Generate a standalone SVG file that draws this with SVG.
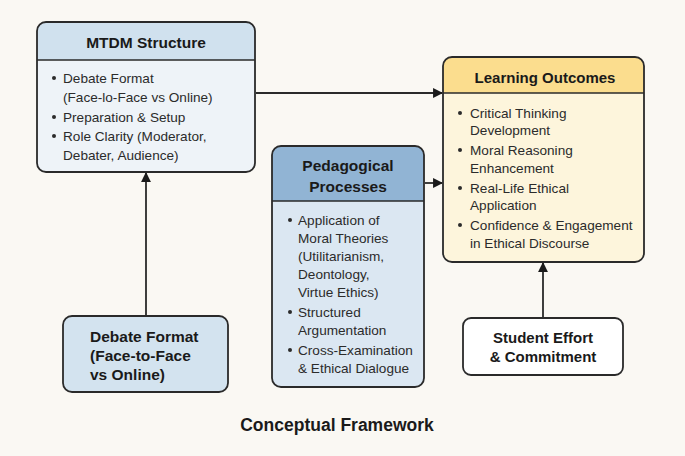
<svg xmlns="http://www.w3.org/2000/svg" width="685" height="456" viewBox="0 0 685 456">
<style>
.box{stroke:#2a2a2a;stroke-width:1.8}
.div{stroke:#2a2a2a;stroke-width:1.5}
.t{font-family:"Liberation Sans",Arial,sans-serif;font-size:13.6px;fill:#2b2b2b}
.h{font-family:"Liberation Sans",Arial,sans-serif;font-size:15px;font-weight:bold;fill:#1a1a1a}
.c{text-anchor:middle}
.dot{fill:#2b2b2b}
.con{stroke:#2a2a2a;stroke-width:1.8;fill:none}
</style>
<defs>
<marker id="arr" viewBox="0 0 10 10" refX="9" refY="5" markerWidth="5.5" markerHeight="5.5" orient="auto" markerUnits="strokeWidth">
<path d="M0,0 L10,5 L0,10 z" fill="#1a1a1a"/>
</marker>
<clipPath id="c1"><rect x="37" y="22" width="218" height="150" rx="9"/></clipPath>
<clipPath id="c2"><rect x="272" y="146" width="152" height="241" rx="9"/></clipPath>
<clipPath id="c3"><rect x="443" y="57" width="201" height="205" rx="9"/></clipPath>
</defs>
<rect width="685" height="456" fill="#faf8f3"/>

<g id="connectors">
<line class="con" x1="256" y1="93" x2="442" y2="93" marker-end="url(#arr)"/>
<line class="con" x1="425" y1="183" x2="442" y2="183" marker-end="url(#arr)"/>
<line class="con" x1="146" y1="316" x2="146" y2="173" marker-end="url(#arr)"/>
<line class="con" x1="543" y1="318" x2="543" y2="263" marker-end="url(#arr)"/>
</g>

<g id="mtdm">
<g clip-path="url(#c1)">
<rect x="37" y="22" width="218" height="150" fill="#eef3f8"/>
<rect x="37" y="22" width="218" height="38" fill="#d0e1ee"/>
</g>
<line class="div" x1="37" y1="60" x2="255" y2="60"/>
<rect class="box" x="37" y="22" width="218" height="150" rx="9" fill="none"/>
<text class="h c" x="146" y="48" style="font-size:15.5px">MTDM Structure</text>
<circle class="dot" cx="54" cy="78" r="2"/>
<circle class="dot" cx="54" cy="117" r="2"/>
<circle class="dot" cx="54" cy="136" r="2"/>
<text class="t" x="63" y="83">Debate Format</text>
<text class="t" x="63" y="102">(Face-lo-Face vs Online)</text>
<text class="t" x="63" y="122">Preparation &amp; Setup</text>
<text class="t" x="63" y="141">Role Clarity (Moderator,</text>
<text class="t" x="63" y="160">Debater, Audience)</text>
</g>

<g id="pedagogical">
<g clip-path="url(#c2)">
<rect x="272" y="146" width="152" height="241" fill="#dbe7f2"/>
<rect x="272" y="146" width="152" height="55" fill="#91b4d4"/>
</g>
<line class="div" x1="272" y1="201" x2="424" y2="201"/>
<rect class="box" x="272" y="146" width="152" height="241" rx="9" fill="none"/>
<text class="h c" x="348" y="171" style="font-size:15.5px">Pedagogical</text>
<text class="h c" x="348" y="192" style="font-size:15.5px">Processes</text>
<circle class="dot" cx="290" cy="220" r="2"/>
<circle class="dot" cx="290" cy="312" r="2"/>
<circle class="dot" cx="290" cy="350" r="2"/>
<text class="t" x="298" y="225">Application of</text>
<text class="t" x="298" y="243">Moral Theories</text>
<text class="t" x="298" y="261">(Utilitarianism,</text>
<text class="t" x="298" y="279">Deontology,</text>
<text class="t" x="298" y="297">Virtue Ethics)</text>
<text class="t" x="298" y="317">Structured</text>
<text class="t" x="298" y="335">Argumentation</text>
<text class="t" x="298" y="355">Cross-Examination</text>
<text class="t" x="298" y="373">&amp; Ethical Dialogue</text>
</g>

<g id="outcomes">
<g clip-path="url(#c3)">
<rect x="443" y="57" width="201" height="205" fill="#fdf5dc"/>
<rect x="443" y="57" width="201" height="36" fill="#fbdd8e"/>
</g>
<line class="div" x1="443" y1="93" x2="644" y2="93"/>
<rect class="box" x="443" y="57" width="201" height="205" rx="9" fill="none"/>
<text class="h c" x="545" y="83">Learning Outcomes</text>
<circle class="dot" cx="460" cy="113" r="2"/>
<circle class="dot" cx="460" cy="150" r="2"/>
<circle class="dot" cx="460" cy="188" r="2"/>
<circle class="dot" cx="460" cy="225" r="2"/>
<text class="t" x="470" y="118">Critical Thinking</text>
<text class="t" x="470" y="135">Development</text>
<text class="t" x="470" y="155">Moral Reasoning</text>
<text class="t" x="470" y="173">Enhancement</text>
<text class="t" x="470" y="193">Real-Life Ethical</text>
<text class="t" x="470" y="210">Application</text>
<text class="t" x="470" y="230">Confidence &amp; Engagement</text>
<text class="t" x="470" y="248">in Ethical Discourse</text>
</g>

<g id="debate-format">
<rect class="box" x="63" y="316" width="165" height="76" rx="9" fill="#d3e3ef"/>
<text class="h" x="90" y="342" style="font-size:15.5px">Debate Format</text>
<text class="h" x="90" y="361" style="font-size:15.5px">(Face-to-Face</text>
<text class="h" x="90" y="380" style="font-size:15.5px">vs Online)</text>
</g>

<g id="student-effort">
<rect class="box" x="463" y="318" width="160" height="57" rx="8" fill="#ffffff"/>
<text class="h c" x="543" y="343">Student Effort</text>
<text class="h c" x="543" y="362">&amp; Commitment</text>
</g>

<text class="h c" x="337" y="431" style="font-size:17.5px">Conceptual Framework</text>
</svg>
